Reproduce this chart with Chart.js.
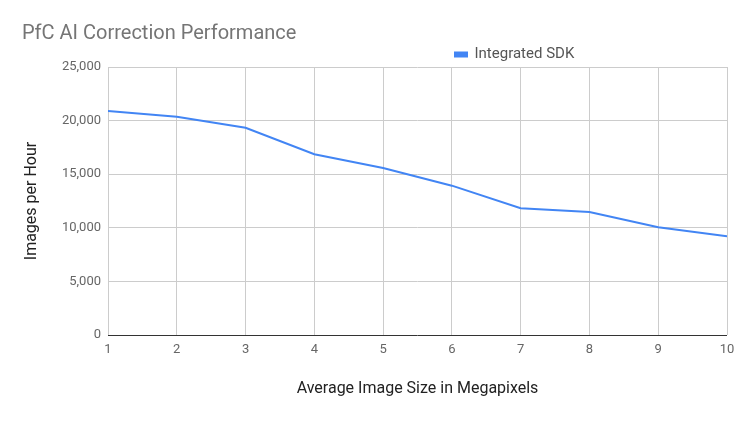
<!DOCTYPE html>
<html>
<head>
<meta charset="utf-8">
<script src="https://cdn.jsdelivr.net/npm/chart.js@4"></script>
<style>
  html, body { margin: 0; padding: 0; background: #fff; }
  canvas { display: block; }
</style>
</head>
<body>
<canvas id="c" width="749" height="421"></canvas>
<script>
const chartTitle = 'PfC AI Correction Performance';
const seriesName = 'Integrated SDK';
const xTitle = 'Average Image Size in Megapixels';
const yTitle = 'Images per Hour';
const imageSizes = [1, 2, 3, 4, 5, 6, 7, 8, 9, 10];
const imagesPerHour = [20900, 20350, 19330, 16860, 15580, 13930, 11830, 11470, 10050, 9200];
const yTicks = [0, 5000, 10000, 15000, 20000, 25000];

const legendShift = {
  id: 'legendShift',
  afterLayout(chart) {
    const l = chart.legend;
    if (!l || !l.lineWidths) return;
    const pad = l.options.labels.padding;
    const cur = (l.left + pad + l.right - l.lineWidths[0]) / 2;
    const shift = 455 - cur;
    l.left += shift;
    l.right += shift;
    l.top += 5;
    l.bottom += 5;
  }
};

new Chart(document.getElementById('c'), {
  type: 'line',
  data: {
    datasets: [{
      label: seriesName,
      data: imageSizes.map((x, i) => ({ x: x, y: imagesPerHour[i] })),
      borderColor: '#4285f4',
      backgroundColor: '#4285f4',
      borderWidth: 2,
      pointRadius: 0,
      tension: 0,
      fill: false
    }]
  },
  options: {
    responsive: false,
    animation: false,
    devicePixelRatio: 1,
    layout: { padding: { left: 22, right: 22, top: 0, bottom: 0 } },
    plugins: {
      title: {
        display: true,
        text: chartTitle,
        align: 'start',
        color: '#757575',
        font: { family: 'Roboto', size: 20, weight: 'normal', lineHeight: 0.2 },
        padding: { top: 32, bottom: 0 }
      },
      legend: {
        display: true,
        position: 'top',
        align: 'center',
        labels: {
          color: '#555',
          font: { family: 'Roboto', size: 15 },
          boxWidth: 12,
          boxHeight: 4,
          padding: 6
        }
      },
      tooltip: { enabled: false }
    },
    scales: {
      x: {
        type: 'linear',
        min: 1,
        max: 10,
        afterFit(scale) { scale.height = 86; },
        ticks: {
          stepSize: 1,
          color: '#666',
          font: { family: 'Roboto', size: 13 },
          padding: 7,
          maxRotation: 0
        },
        grid: { color: '#cccccc', lineWidth: 1, drawTicks: false },
        border: { display: false },
        title: {
          display: true,
          text: xTitle,
          color: '#222',
          font: { family: 'Roboto', size: 16 },
          padding: { top: 0, bottom: 22 }
        }
      },
      y: {
        min: 0,
        max: 25000,
        afterFit(scale) { scale.width = 86; },
        afterBuildTicks(scale) { scale.ticks = yTicks.map(v => ({ value: v })); },
        ticks: {
          color: '#666',
          font: { family: 'Roboto', size: 13 },
          padding: 7,
          callback: v => v.toLocaleString('en-US')
        },
        grid: {
          color: ctx => (ctx.tick && ctx.tick.value === 0) ? '#333333' : '#cccccc',
          lineWidth: 1,
          drawTicks: false
        },
        border: { display: false },
        title: {
          display: true,
          text: yTitle,
          color: '#222',
          font: { family: 'Roboto', size: 16 },
          padding: { top: 0, bottom: 0 }
        }
      }
    }
  },
  plugins: [legendShift]
});
</script>
</body>
</html>
